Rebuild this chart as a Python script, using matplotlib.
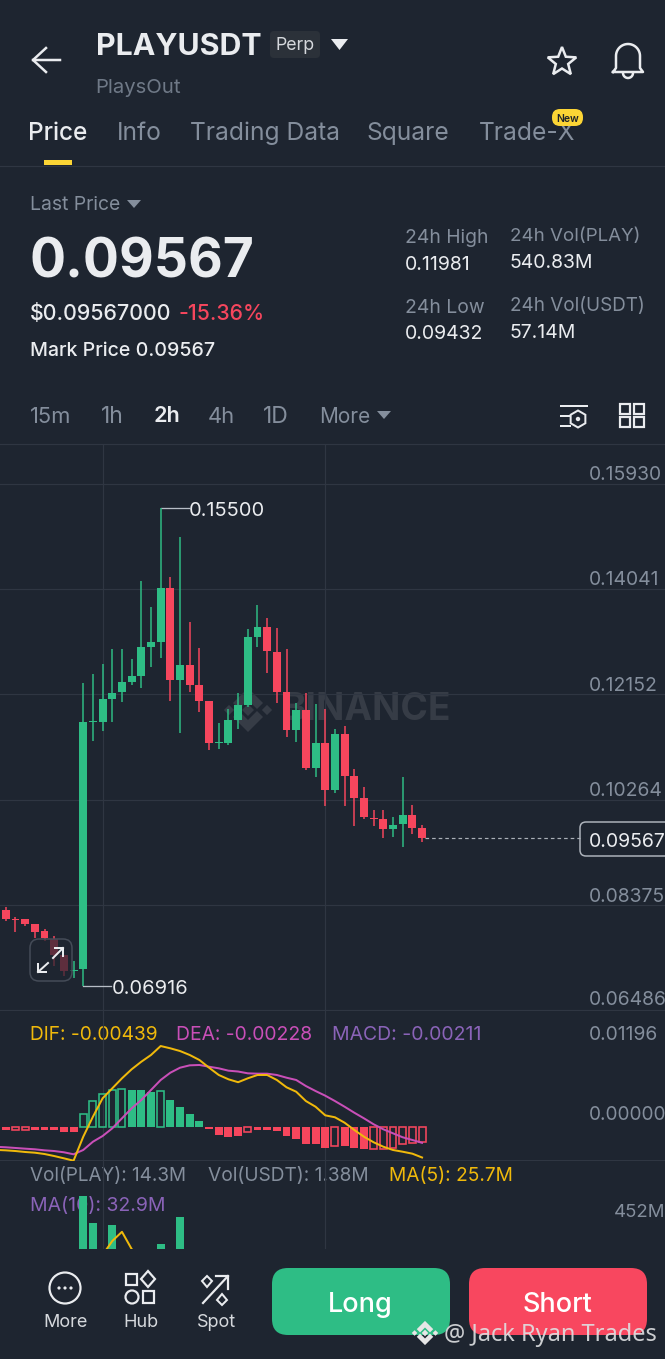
import numpy as np
import matplotlib
matplotlib.use('Agg')
import matplotlib.pyplot as plt
from matplotlib.patches import FancyBboxPatch, Polygon, Circle, Rectangle

# 2h candles, first one is the leftmost visible on the screen
opens = [.08281,.08111,.08114,.08030,.07899,.07761,.07473,.07195,.07222,.11651,.11662,.12070,.12190,.12375,.12488,
         .13009,.13099,.14063,.12411,.12675,.12316,.12034,.11280,.11274,.11693,.11962,.13188,.13357,.12919,.12190,
         .11513,.11872,.10836,.11285,.10436,.11436,.10687,.10292,.09939,.09921,.09741,.09820,.09992,.09754]
highs = [.08330,.08161,.08114,.08030,.07935,.07820,.07473,.07366,.12352,.12513,.12703,.12967,.12967,.12782,.14194,
         .13727,.15500,.14266,.14973,.13447,.12985,.12034,.11633,.11896,.12172,.13321,.13763,.13529,.13339,.12973,
         .11992,.12172,.11975,.11890,.11531,.11590,.10813,.10484,.10077,.10077,.09946,.10675,.10167,.09802]
lows = [.08084,.07881,.07994,.07784,.07730,.07276,.07096,.07061,.06916,.11316,.11500,.11662,.12021,.12321,.12262,
        .12639,.12811,.12039,.11454,.12201,.11831,.11154,.11167,.11244,.11526,.11931,.13009,.12531,.11992,.11393,
        .11303,.10795,.10664,.10149,.10387,.10154,.09789,.09910,.09789,.09579,.09592,.09418,.09640,.09497]
closes = [.08114,.08093,.08030,.07881,.07784,.07473,.07186,.07213,.11651,.11675,.12070,.12183,.12375,.12483,.13009,
          .13093,.14068,.12411,.12675,.12316,.12039,.11274,.11298,.11687,.11962,.13188,.13357,.12932,.12201,.11513,
          .11872,.10836,.11285,.10436,.11436,.10687,.10298,.09946,.09921,.09741,.09808,.09987,.09754,.09567]

# macd arrays start one candle earlier (index -1), that candle is off screen
dif = [-.00330,-.00336,-.00346,-.00360,-.00370,-.00389,-.00418,-.00451,-.00485,-.00140,.00148,.00413,.00557,.00701,.00831,
       .00940,.01037,.01166,.01133,.01094,.01037,.00965,.00854,.00749,.00687,.00645,.00701,.00749,.00749,.00677,
       .00572,.00508,.00374,.00292,.00168,.00140,.00062,-.00043,-.00140,-.00220,-.00284,-.00331,-.00356,-.00384,-.00439]
dea = [-.00285,-.00292,-.00302,-.00312,-.00321,-.00336,-.00346,-.00364,-.00393,-.00331,-.00212,-.00130,-.00019,.00125,.00269,
       .00389,.00533,.00677,.00782,.00854,.00888,.00893,.00868,.00845,.00811,.00799,.00773,.00768,.00768,.00749,
       .00710,.00677,.00590,.00518,.00451,.00374,.00292,.00206,.00125,.00039,-.00033,-.00091,-.00148,-.00187,-.00228]
hist = [-.00036,-.00039,-.00043,-.00043,-.00039,-.00039,-.00048,-.00072,-.00079,.00187,.00370,.00475,.00533,.00547,.00533,
        .00528,.00504,.00518,.00384,.00288,.00187,.00086,-.00029,-.00115,-.00140,-.00134,-.00065,-.00036,-.00036,-.00062,
        -.00134,-.00168,-.00240,-.00249,-.00307,-.00274,-.00278,-.00298,-.00321,-.00321,-.00317,-.00298,-.00249,-.00230,-.00211]
hollow = [1,2,8,9,10,11,12,16,25,34,38,39,40,41,42,43]

# only the tops of the volume bars are on screen
vol_idx = [8, 9, 11, 16, 18]
vol_vals = [514, 448, 442, 394, 463]
ma5_idx = [10, 11, 12, 13, 14]
ma5_vals = [367, 402, 425, 382, 350]

price_ticks = [.15930, .14041, .12152, .10264, .08375, .06486]
price_labels = ['0.15930', '0.14041', '0.12152', '0.10264', '0.08375', '0.06486']
grid_idx = [10, 33]

BG = '#1e2530'
GREEN = '#2ebd85'
RED = '#f6465d'
YEL = '#f0b90b'
MAG = '#c94fb8'
PUR = '#8a63b8'
GRAY = '#848e9c'
GRID = '#2f3642'
WHITE = '#eaecef'
FONT = 'Inter'

plt.rcParams['font.family'] = [FONT, 'DejaVu Sans']

W, H = 665, 1359
fig = plt.figure(figsize=(W/100, H/100), dpi=100, facecolor=BG)

def make_axes(y0, y1, z):
    ax = fig.add_axes([0, 1-y1/H, 1, (y1-y0)/H], zorder=z)
    ax.patch.set_alpha(0)
    ax.set_axis_off()
    return ax

ui = make_axes(0, H, 1)
ui.set_xlim(0, W)
ui.set_ylim(H, 0)
top = make_axes(0, H, 5)
top.set_xlim(0, W)
top.set_ylim(H, 0)

# candle index -> pixel is 5.8 + 9.68*i
xlim = (-5.8/9.68, (W-5.8)/9.68)

def px(v):
    return v*0.72

def txt(s, x, y, size, color=GRAY, weight='normal', ha='left', ax=ui, **kw):
    return ax.text(x, y, s, fontsize=size, color=color, fontweight=weight, ha=ha, va='baseline', **kw)

def rbox(ax, x0, y0, x1, y1, r, fc, ec='none', lw=0, z=2, alpha=None):
    p = FancyBboxPatch((x0+r, y0+r), x1-x0-2*r, y1-y0-2*r, boxstyle='round,pad=%f,rounding_size=%f' % (r, r),
                       fc=fc, ec=ec, lw=lw, zorder=z, alpha=alpha)
    ax.add_patch(p)
    return p

def logo(ax, cx, cy, s, color, z=2):
    # exchange logo: centre and side diamonds, chevrons above and below
    chev = np.array([[0, -22], [15, -7], [9, -1], [0, -10], [-9, -1], [-15, -7]], float)
    for sign in (1, -1):
        ax.add_patch(Polygon(np.c_[cx+s*chev[:, 0], cy+sign*s*chev[:, 1]], fc=color, ec='none', zorder=z))
    dia = np.array([[0, -6], [6, 0], [0, 6], [-6, 0]], float)
    for dx, k in [(0, 1), (-19, 0.85), (19, 0.85)]:
        ax.add_patch(Polygon(np.c_[cx+s*(dx+k*dia[:, 0]), cy+s*k*dia[:, 1]], fc=color, ec='none', zorder=z))

# price panel
ax1 = make_axes(444, 1010, 3)
ax1.set_xlim(*xlim)
ax1.set_ylim(.06486, .06486 + 566*0.00017954)
for t in price_ticks:
    ax1.axhline(t, color=GRID, lw=px(1.2), zorder=1)
for g in grid_idx:
    ax1.axvline(g, color=GRID, lw=px(1.2), zorder=1)
for i in range(len(opens)):
    c = GREEN if closes[i] >= opens[i] else RED
    ax1.vlines(i, lows[i], highs[i], color=c, lw=px(1.5), zorder=3)
    b0 = min(opens[i], closes[i])
    h = max(abs(closes[i]-opens[i]), 0.00018)
    ax1.bar(i, h, bottom=b0, width=0.82, color=c, lw=0, zorder=3)
ax1.plot([16, 19], [.155, .155], color='#b7bdc6', lw=px(1.3), zorder=2)
ax1.plot([8, 10.9], [.06916, .06916], color='#b7bdc6', lw=px(1.3), zorder=2)
ax1.plot([43.3, 59.3], [closes[-1], closes[-1]], color='#aab0b8', lw=px(1.2), dashes=(3, 2.5), zorder=2)

# macd panel
ax2 = make_axes(1010, 1161, 3)
ax2.set_xlim(*xlim)
ax2.set_ylim(-34*0.000144, 117*0.000144)
xm = np.arange(-1, 44)
ax2.axhline(-34*0.000144, color=GRID, lw=px(2), zorder=1)
ax2.axhline(117*0.000144, color=GRID, lw=px(2), zorder=1)
for g in grid_idx:
    ax2.axvline(g, color=GRID, lw=px(1.2), zorder=1)
for i, v in zip(xm, hist):
    c = GREEN if v > 0 else RED
    if i in hollow:
        ax2.bar(i, v, width=0.72, facecolor='none', edgecolor=c, lw=px(1.6), zorder=3)
    else:
        ax2.bar(i, v, width=0.82, color=c, lw=0, zorder=3)
ax2.plot(xm, dea, color=MAG, lw=px(2), zorder=4)
ax2.plot(xm, dif, color=YEL, lw=px(2), zorder=5)

# volume panel, cut at the bottom by the nav bar
ax3 = make_axes(1161, 1249, 3)
ax3.set_xlim(*xlim)
ax3.set_ylim(382, 382 + 88*2.5)
for g in grid_idx:
    ax3.axvline(g, color=GRID, lw=px(1.2), zorder=1)
ax3.bar(vol_idx, vol_vals, width=0.82, color=GREEN, lw=0, zorder=3)
ax3.plot(ma5_idx, ma5_vals, color=YEL, lw=px(2), zorder=4)

# header
ui.plot([33, 60], [60, 60], color=WHITE, lw=px(2.5))
ui.plot([46, 33, 46], [48, 60, 72], color=WHITE, lw=px(2.5))
txt('PLAYUSDT', 95.5, 55, 21.8, WHITE, 'bold')
rbox(ui, 270, 31, 320, 58, 4, '#2b3139')
txt('Perp', 275.5, 50, 12.8, '#d5d8dc')
ui.add_patch(Polygon([[331, 39], [348, 39], [339.5, 50]], fc=WHITE, ec='none'))
txt('PlaysOut', 95.5, 93, 14.6, '#6f7987')
ang = np.linspace(np.pi/2, np.pi/2+2*np.pi, 11)
rad = np.array([15, 6.5]*5+[15])
ui.add_patch(Polygon(np.c_[562+rad*np.cos(ang), 62-rad*np.sin(ang)], fc='none', ec=WHITE, lw=px(2.5)))
th = np.linspace(np.pi, 0, 30)
bx = np.r_[613, 616, 616, 628+12*np.cos(th), 640, 640, 643, 613]
by = np.r_[72, 68, 56, 56-12*np.sin(th), 56, 68, 72, 72]
ui.plot(bx, by, color=WHITE, lw=px(2.5))
th = np.linspace(np.pi, 2*np.pi, 20)
ui.plot(628+5*np.cos(th), 73-5*np.sin(th), color=WHITE, lw=px(2.5))

# tabs
txt('Price', 28.5, 140, 17.5, WHITE, 'medium')
for s, x in [('Info', 117), ('Trading Data', 190), ('Square', 367), ('Trade-X', 479)]:
    txt(s, x, 140, 17.7, GRAY)
rbox(ui, 552, 109, 583, 126, 8, '#fcd535', z=4)
txt('New', 567.5, 121.5, 7.5, '#1e2329', 'semibold', ha='center', zorder=5)
ui.add_patch(Rectangle((44, 160), 28, 5, fc='#fcd535', ec='none', zorder=3))
ui.plot([0, W], [165.5, 165.5], color=GRID, lw=px(1.2))

# price block
txt('Last Price', 30, 210, 13.9)
ui.add_patch(Polygon([[127, 200], [141, 200], [134, 208]], fc=GRAY, ec='none'))
txt('0.09567', 29.5, 277, 38.5, WHITE, 'bold')
txt('$0.09567000', 30, 320, 15.4, WHITE, 'medium')
txt('-15.36%', 178, 320, 15.3, RED, 'medium')
txt('Mark Price 0.09567', 30, 356, 14.1, WHITE, 'medium')
txt('24h High', 405, 243, 13.9)
txt('0.11981', 405, 270, 14, WHITE)
txt('24h Low', 405, 313, 13.9)
txt('0.09432', 405, 339, 14, WHITE)
txt('24h Vol(PLAY)', 510, 241, 13.5)
txt('540.83M', 509.5, 268, 14, WHITE)
txt('24h Vol(USDT)', 510, 311, 13.6)
txt('57.14M', 509.5, 338, 14, WHITE)

# intervals
for s, x, fs in [('15m', 29.5, 15.8), ('1h', 101, 16.5), ('4h', 207.5, 15.8), ('1D', 262.5, 16.5), ('More', 319, 15)]:
    txt(s, x, 423, fs)
txt('2h', 154, 422, 15.5, WHITE, 'semibold')
ui.add_patch(Polygon([[377, 411], [391, 411], [384, 419]], fc=GRAY, ec='none'))
ui.plot([0, W], [444, 444], color=GRID, lw=px(1.2))
for x, y, w in [(561, 406, 26), (561, 416, 9), (561, 426, 9)]:
    ui.plot([x, x+w], [y, y], color=WHITE, lw=px(2))
a6 = np.pi/6 + np.arange(6)*np.pi/3
ui.add_patch(Polygon(np.c_[578+8.5*np.cos(a6), 419+8.5*np.sin(a6)], fc='none', ec=WHITE, lw=px(2), zorder=3))
ui.add_patch(Circle((578, 419), 2.2, fc=WHITE, ec='none', zorder=4))
for x in (620, 634):
    for y in (404, 417):
        ui.add_patch(Rectangle((x, y), 10, 10, fc='none', ec=WHITE, lw=px(2.2)))

# watermark sits under the candles
logo(ui, 248, 710, 1.0, '#363c46')
txt('BINANCE', 282, 720, 26.7, '#363c46', 'bold')

# axis labels
for s, y in zip(price_labels, [480, 585, 691, 796, 902, 1005]):
    txt(s, 589, y, 13.9, GRAY)
rbox(ui, 580, 822, 680, 856, 6, BG, '#aeb4bc', px(1.5), z=4)
txt('0.09567', 589, 847, 14, WHITE, zorder=5)
txt('0.15500', 189, 516, 14.4, WHITE, zorder=5)
txt('0.06916', 112, 994, 14.4, WHITE, zorder=5)
txt('DIF: -0.00439', 30, 1040, 13.8, YEL)
txt('DEA: -0.00228', 176, 1040, 13.9, MAG)
txt('MACD: -0.00211', 332, 1040, 14, PUR)
txt('0.01196', 589, 1040, 13.9)
txt('0.00000', 589, 1120, 13.7)
txt('Vol(PLAY): 14.3M', 30, 1181, 13.6)
txt('Vol(USDT): 1.38M', 208, 1181, 13.8)
txt('MA(5): 25.7M', 389, 1181, 13.8, YEL)
txt('MA(10): 32.9M', 30, 1211, 14, PUR)
txt('452M', 614, 1217, 13.4, GRAY)

# expand button over the candles
rbox(top, 30, 939, 72, 981, 9, '#1e2530', 'none', 0, alpha=0.7)
rbox(top, 30, 939, 72, 981, 9, 'none', '#454c58', px(1.5))
for x0, y0, x1, y1, sg in [(53, 958, 63, 948, 1), (48, 963, 38, 972, -1)]:
    top.plot([x0, x1], [y0, y1], color=WHITE, lw=px(2))
    top.plot([x1-sg*8, x1, x1], [y1, y1, y1+sg*8], color=WHITE, lw=px(2))

# bottom nav
top.add_patch(Circle((65, 1288), 15.5, fc='none', ec=WHITE, lw=px(2.2)))
for dx in (-6, 0, 6):
    top.add_patch(Circle((65+dx, 1288), 1.6, fc=WHITE, ec='none'))
top.add_patch(Rectangle((126, 1274), 11, 11, fc='none', ec=WHITE, lw=px(2.2)))
top.add_patch(Polygon([[148, 1271], [155, 1279], [148, 1287], [141, 1279]], fc='none', ec=WHITE, lw=px(2.2)))
top.add_patch(Circle((132, 1297), 6.5, fc='none', ec=WHITE, lw=px(2.2)))
top.add_patch(Rectangle((143, 1291), 11, 12, fc='none', ec=WHITE, lw=px(2.2)))
top.plot([203, 228], [1303, 1276], color=WHITE, lw=px(2.2))
top.plot([216, 228, 228], [1276, 1276, 1289], color=WHITE, lw=px(2.2))
top.add_patch(Polygon([[207, 1276], [212, 1281], [207, 1287], [202, 1281]], fc='none', ec=WHITE, lw=px(2)))
top.add_patch(Polygon([[222, 1294], [227, 1300], [222, 1305], [217, 1300]], fc='none', ec=WHITE, lw=px(2)))
txt('More', 66, 1327, 13, '#d5d8dc', ha='center', ax=top)
txt('Hub', 141, 1327, 13, '#d5d8dc', ha='center', ax=top)
txt('Spot', 216, 1327, 13, '#d5d8dc', ha='center', ax=top)
rbox(top, 272, 1268, 450, 1335, 16, GREEN)
rbox(top, 469, 1268, 647, 1335, 16, '#f8475f')
txt('Long', 360, 1312, 19.5, 'white', 'medium', ha='center', ax=top, zorder=3)
txt('Short', 558, 1312, 19.5, 'white', 'medium', ha='center', ax=top, zorder=3)

# repost credit
logo(top, 425, 1333, 0.55, '#e6e6e6', z=6)
top.text(444, 1341, '@ Jack Ryan Trades', fontsize=17, color='#dfe1e3', family='Noto Sans', va='baseline', zorder=6, alpha=0.9)

fig.savefig('out.png', dpi=100, facecolor=BG)
